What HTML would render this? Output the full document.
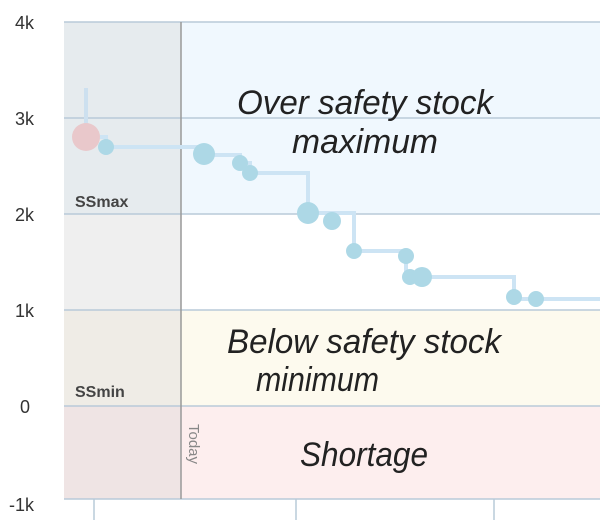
<!DOCTYPE html>
<html><head><meta charset="utf-8"><style>
body{margin:0;background:#fff;width:600px;height:520px;overflow:hidden}
svg text{font-family:"Liberation Sans",sans-serif}
.h{font-family:"Liberation Sans Narrow","Liberation Sans",sans-serif;font-style:italic;font-size:34px;fill:#222;text-anchor:start}
</style></head><body>
<svg width="600" height="520" xmlns="http://www.w3.org/2000/svg">
<rect x="181" y="22" width="419" height="192" fill="#f0f8fe"/>
<rect x="181" y="214" width="419" height="96" fill="#fff"/>
<rect x="181" y="310" width="419" height="96" fill="#fdfaee"/>
<rect x="181" y="406" width="419" height="93" fill="#fdeeee"/>
<rect x="64" y="22" width="117" height="192" fill="#e6ebee"/>
<rect x="64" y="214" width="117" height="96" fill="#efefef"/>
<rect x="64" y="310" width="117" height="96" fill="#efece6"/>
<rect x="64" y="406" width="117" height="93" fill="#efe4e4"/>
<g stroke="#b9cad9" stroke-width="1.5">
<line x1="64" y1="22" x2="600" y2="22"/><line x1="64" y1="118" x2="600" y2="118"/>
<line x1="64" y1="214" x2="600" y2="214"/><line x1="64" y1="310" x2="600" y2="310"/>
<line x1="64" y1="406" x2="600" y2="406"/><line x1="64" y1="499" x2="600" y2="499"/>
<line x1="94" y1="499" x2="94" y2="520"/><line x1="296" y1="499" x2="296" y2="520"/><line x1="494" y1="499" x2="494" y2="520"/>
</g>
<line x1="181" y1="22" x2="181" y2="499" stroke="#999" stroke-width="1.5"/>
<g font-size="18" fill="#333" text-anchor="end">
<text x="34" y="29">4k</text><text x="34" y="125">3k</text><text x="34" y="221">2k</text>
<text x="34" y="317">1k</text><text x="30" y="413">0</text><text x="34" y="511">-1k</text></g>
<text x="75" y="207" font-size="16" font-weight="bold" fill="#444">SSmax</text>
<text x="75" y="397" font-size="16" font-weight="bold" fill="#444">SSmin</text>
<text transform="translate(189,424) rotate(90)" font-size="15" fill="#888">Today</text>
<text class="h" x="237" y="114" textLength="256" lengthAdjust="spacingAndGlyphs">Over safety stock</text>
<text class="h" x="292" y="153" textLength="146" lengthAdjust="spacingAndGlyphs">maximum</text>
<text class="h" x="227" y="353" textLength="274" lengthAdjust="spacingAndGlyphs">Below safety stock</text>
<text class="h" x="256" y="391" textLength="123" lengthAdjust="spacingAndGlyphs">minimum</text>
<text class="h" x="300" y="466" textLength="128" lengthAdjust="spacingAndGlyphs">Shortage</text>
<line x1="86" y1="88" x2="86" y2="137" stroke="#cde0ef" stroke-width="4"/>
<polyline fill="none" stroke="#cde4f4" stroke-width="4" points="86,137 106,137 106,147 204,147 204,155 240,155 240,163 250,163 250,173 308,173 308,213 354,213 354,251 406,251 406,277 514,277 514,299 600,299"/>
<circle cx="86" cy="137" r="14" fill="#e9c8cb"/>
<g fill="#add8e6">
<circle cx="106" cy="147" r="8"/><circle cx="204" cy="154" r="11"/><circle cx="240" cy="163" r="8"/>
<circle cx="250" cy="173" r="8"/><circle cx="308" cy="213" r="11"/><circle cx="332" cy="221" r="9"/>
<circle cx="354" cy="251" r="8"/><circle cx="406" cy="256" r="8"/><circle cx="410" cy="277" r="8"/>
<circle cx="422" cy="277" r="10"/><circle cx="514" cy="297" r="8"/><circle cx="536" cy="299" r="8"/>
</g>
</svg>
</body></html>
